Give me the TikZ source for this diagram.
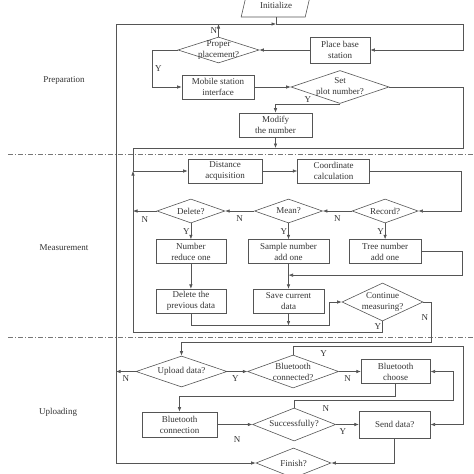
\documentclass[tikz,border=0pt]{standalone}
\usepackage{fontspec}
\setmainfont{Liberation Serif}
\usepackage{xcolor}
\usetikzlibrary{shapes.geometric, arrows.meta, positioning, calc}

\definecolor{linegray}{HTML}{555555}
\definecolor{textgray}{HTML}{333333}

\begin{document}
\begin{tikzpicture}[
    x=1pt, y=-1pt,
    >={Latex[length=4.5pt, width=3.5pt]},
    every node/.style={font=\fontsize{9}{11}\selectfont, text=textgray},
    io/.style={trapezium, trapezium left angle=74, trapezium right angle=106, trapezium stretches=true, draw=linegray, line width=0.6pt, minimum width=70pt, minimum height=24pt},
    process/.style={rectangle, draw=linegray, line width=0.6pt, minimum height=24pt, minimum width=#1, inner sep=1pt, align=center},
    process/.default=72pt,
    decision/.style 2 args={diamond, draw=linegray, line width=0.6pt, inner sep=0pt, minimum width=#1, minimum height=26pt, label={[align=center]center:#2}},
    arrow/.style={->, draw=linegray, line width=0.6pt},
    line/.style={draw=linegray, line width=0.6pt},
    divider/.style={draw=linegray!80, line width=0.6pt, dash pattern=on 5pt off 2pt on 1pt off 2pt},
    yn/.style={inner sep=1pt},
]
\useasboundingbox (0,0) rectangle (474,474);

% === RAILS ===
\coordinate (railtop) at (116,24);
\coordinate (railbot) at (116,463);
\coordinate (rightrail) at (463,0);
\coordinate (innertop) at (133,148);

% === PREPARATION ===
\node[io] (init) at (276,5) {Initialize};
\node[decision={81pt}{Proper\\placement?}] (proper) at (218.5,50) {};
\node[process=60pt, minimum height=26pt] (placebase) at (340,50) {Place base\\station};
\node[process] (mobile) at (218,87) {Mobile station\\interface};
\node[decision={98pt}{Set\\plot number?}, minimum height=33pt] (setplot) at (340,87) {};
\node[process=73pt] (modify) at (275.5,125) {Modify\\the number};

\coordinate (join) at (init.south |- railtop);

% === MEASUREMENT ===
\node[process=74pt] (distance) at (225,171) {Distance\\acquisition};
\node[process, right=35pt of distance] (coord) {Coordinate\\calculation};

\node[decision={68pt}{Mean?}, minimum height=24pt] (mean) at (288.5,211) {};
\node[decision={68pt}{Delete?}, minimum height=24pt, left=29pt of mean] (delete) {};
\node[decision={66pt}{Record?}, minimum height=24pt, right=29pt of mean] (record) {};

\node[process=70pt, below=16pt of delete] (reduce) {Number\\reduce one};
\node[process=81pt, below=16pt of mean] (sample) {Sample number\\add one};
\node[process, below=16pt of record] (tree) {Tree number\\add one};

\node[process=70pt, below=25pt of reduce] (deleteprev) {Delete the\\previous data};
\node[process=71pt, below=25pt of sample] (save) {Save current\\data};
\node[decision={81pt}{Continue\\measuring?}, minimum height=38pt] (continue) at (382.5,302) {};

% === UPLOADING ===
\node[decision={91pt}{Upload data?}, minimum height=31pt] (upload) at (181.5,371.5) {};
\node[decision={91pt}{Bluetooth\\connected?}, minimum height=33pt, right=20pt of upload] (btconn) {};
\node[process=69pt, right=22pt of btconn] (btchoose) {Bluetooth\\choose};
\node[process=75pt, minimum height=25pt] (btconnection) at (179.5,424.5) {Bluetooth\\connection};
\node[decision={83pt}{Successfully?}, minimum height=33pt, right=35pt of btconnection] (successfully) {};
\node[process=71pt, minimum height=27pt, right=23pt of successfully] (send) {Send data?};
\node[decision={75pt}{Finish?}, minimum height=30pt] (finish) at (293.5,463) {};
\node[yn] (nstray) at (237,440) {N};

% Stage labels
\node (prep) at (64,80) {Preparation};
\node (meas) at (64,248) {Measurement};
\node (upl) at (58,412) {Uploading};

% Dividers
\draw[divider] (8,154) -- (474,154);
\draw[divider] (8,337) -- (474,337);

% === FLOW CONNECTIONS ===
% Preparation
\draw[line] (init.south) -- (join);
\draw[arrow] (railbot) -- (railtop) -- (join);
\draw[arrow] (join) -| (rightrail |- placebase) -- (placebase.east);
\draw[arrow] (placebase.west) -- (proper.east);
\draw[arrow] (proper.north) -- (proper.north |- join) node[yn, midway, left] {N};
\draw[arrow] (proper.west) -- ++(-25,0) |- node[yn, pos=0.25, right=1pt] {Y} (mobile.west);
\draw[arrow] (mobile.east) -- (setplot.west);
\draw[arrow] (setplot.south) -| node[yn, pos=0.25, above] {Y} (modify.north);
\draw[arrow] (setplot.east) -| (rightrail |- innertop) -- (innertop) |- (distance.west);
\draw[arrow] (modify.south) -- (modify.south |- innertop);

% Measurement
\draw[arrow] (distance) -- (coord);
\draw[arrow] (coord.east) -- ++(91,0) |- (record.east);
\draw[arrow] (record.west) -- node[yn, below=3pt] {N} (mean.east);
\draw[arrow] (mean.west) -- node[yn, below=3pt] {N} (delete.east);
\draw[arrow] (delete.west) -- node[yn, below=4pt] {N} (delete.west -| innertop);
\draw[arrow] (delete) -- node[yn, left] {Y} (reduce);
\draw[arrow] (mean) -- node[yn, left] {Y} (sample);
\draw[arrow] (record) -- node[yn, left] {Y} (tree);
\draw[arrow] (reduce) -- (deleteprev);
\draw[arrow] (sample) -- (save);
\draw[arrow] (tree.east) -- ++(41,0) |- ($(sample.south)!0.45!(save.north)$);
\draw[arrow] (deleteprev.south) -- ++(0,12) coordinate (lowjoin) -| ($(continue.west)+(-12,0)$) -- (continue.west);
\draw[arrow] (save.south) -- (save.south |- lowjoin);
\draw[arrow] (continue.south) -- ++(0,11) node[yn, midway, left] {Y} -| (innertop |- distance.west);
\draw[arrow] (continue.east) -- ++(8,0) -- ++(0,40) node[yn, pos=0.4, left=2pt] {N} -| (upload.north);

% Uploading
\draw[arrow] (upload.west) -- node[yn, below=3pt] {N} (upload.west -| railtop);
\draw[arrow] (upload) -- node[yn, below=3pt, pos=0.4] {Y} (btconn);
\draw[arrow] (btconn) -- node[yn, below=3pt, pos=0.4] {N} (btchoose);
\draw[arrow] (btconn.north) -- ++(0,-8) -| node[yn, pos=0.09, below=3pt] {Y} (rightrail |- send.east) -- (send.east);
\draw[arrow] (btchoose.south) -- ++(0,12) -| (btconnection.north);
\draw[arrow] (btconnection) -- (successfully);
\draw[arrow] (successfully) -- node[yn, below=3pt, pos=0.3] {Y} (send);
\draw[arrow] (successfully.north) -- ++(0,-7) -| node[yn, pos=0.1, below=4pt] {N} ($(btchoose.east)+(23,0)$) -- (btchoose.east);
\draw[arrow] (send.south) |- (finish.east);
\draw[arrow] (railbot) -- (finish.west);

\end{tikzpicture}
\end{document}
